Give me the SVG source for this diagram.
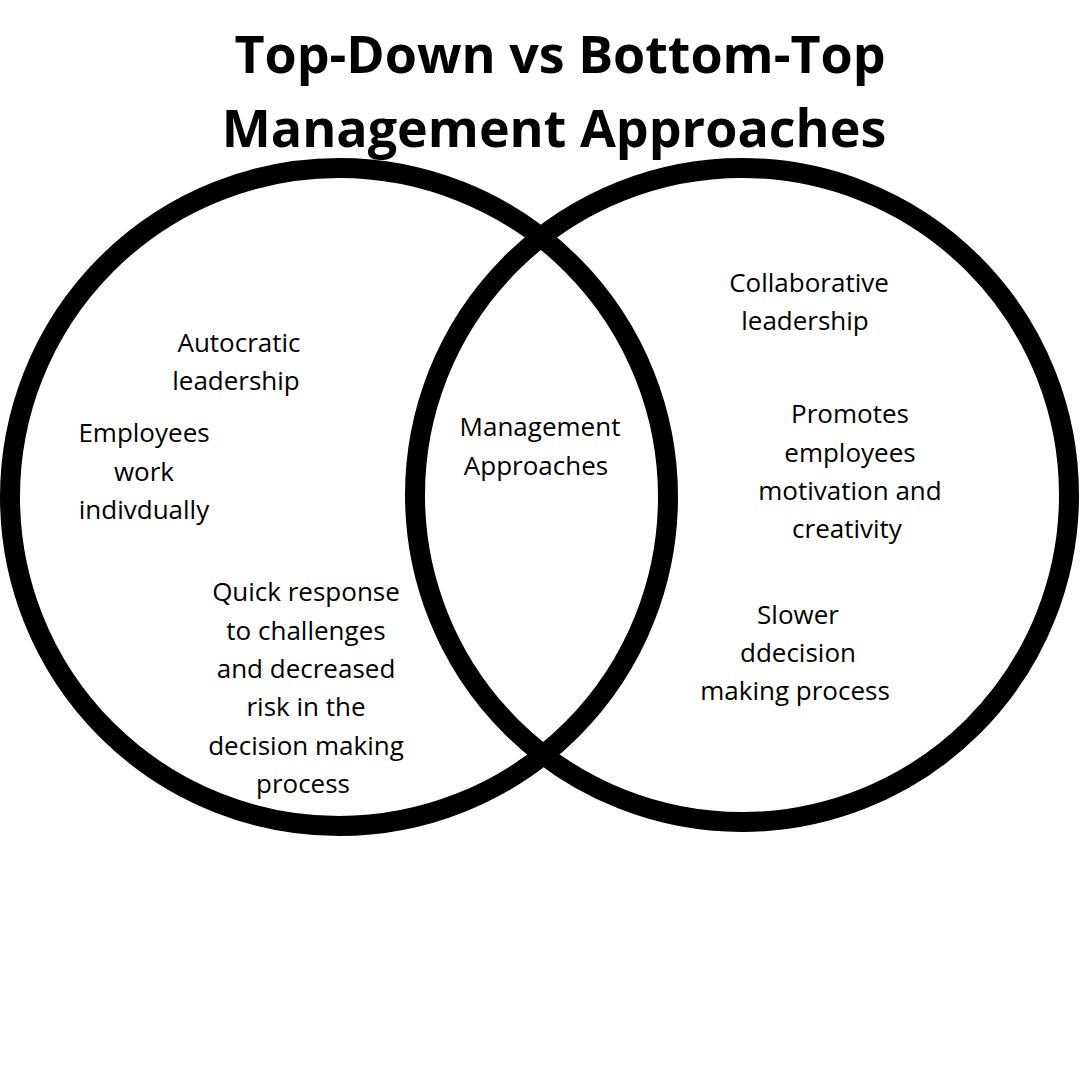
<svg xmlns="http://www.w3.org/2000/svg" width="1080" height="1080" viewBox="0 0 1080 1080">
<style>
.c{fill:none;stroke:#000;stroke-width:20}
.t{font-family:"Open Sans",sans-serif;font-size:26px;fill:#000;text-anchor:middle}
.h{font-family:"Open Sans",sans-serif;font-size:52px;font-weight:bold;fill:#000;text-anchor:middle}
</style>
<rect width="1080" height="1080" fill="#fff"/>
<g id="title"><text class="h" x="560" y="73">Top-Down vs Bottom-Top</text><text class="h" x="554" y="147">Management Approaches</text></g>
<g id="left-circle"><circle class="c" cx="339" cy="497" r="329"/></g>
<g id="right-circle"><circle class="c" cx="742" cy="495" r="327"/></g>
<g id="left-texts">
<text class="t" x="239" y="352">Autocratic</text><text class="t" x="236" y="390">leadership</text>
<text class="t" x="144" y="442">Employees</text><text class="t" x="144" y="481">work</text><text class="t" x="144" y="519">indivdually</text>
<text class="t" x="306" y="601">Quick response</text><text class="t" x="306" y="640">to challenges</text><text class="t" x="306" y="678">and decreased</text><text class="t" x="306" y="716">risk in the</text><text class="t" x="306" y="755">decision making</text><text class="t" x="303" y="793">process</text>
</g>
<g id="center-text"><text class="t" x="540" y="436">Management</text><text class="t" x="536" y="475">Approaches</text></g>
<g id="right-texts">
<text class="t" x="809" y="292">Collaborative</text><text class="t" x="805" y="330">leadership</text>
<text class="t" x="850" y="423">Promotes</text><text class="t" x="850" y="462">employees</text><text class="t" x="850" y="500">motivation and</text><text class="t" x="847" y="538">creativity</text>
<text class="t" x="798" y="624">Slower</text><text class="t" x="798" y="662">ddecision</text><text class="t" x="795" y="700">making process</text>
</g>
<g id="connectors"/>
</svg>
